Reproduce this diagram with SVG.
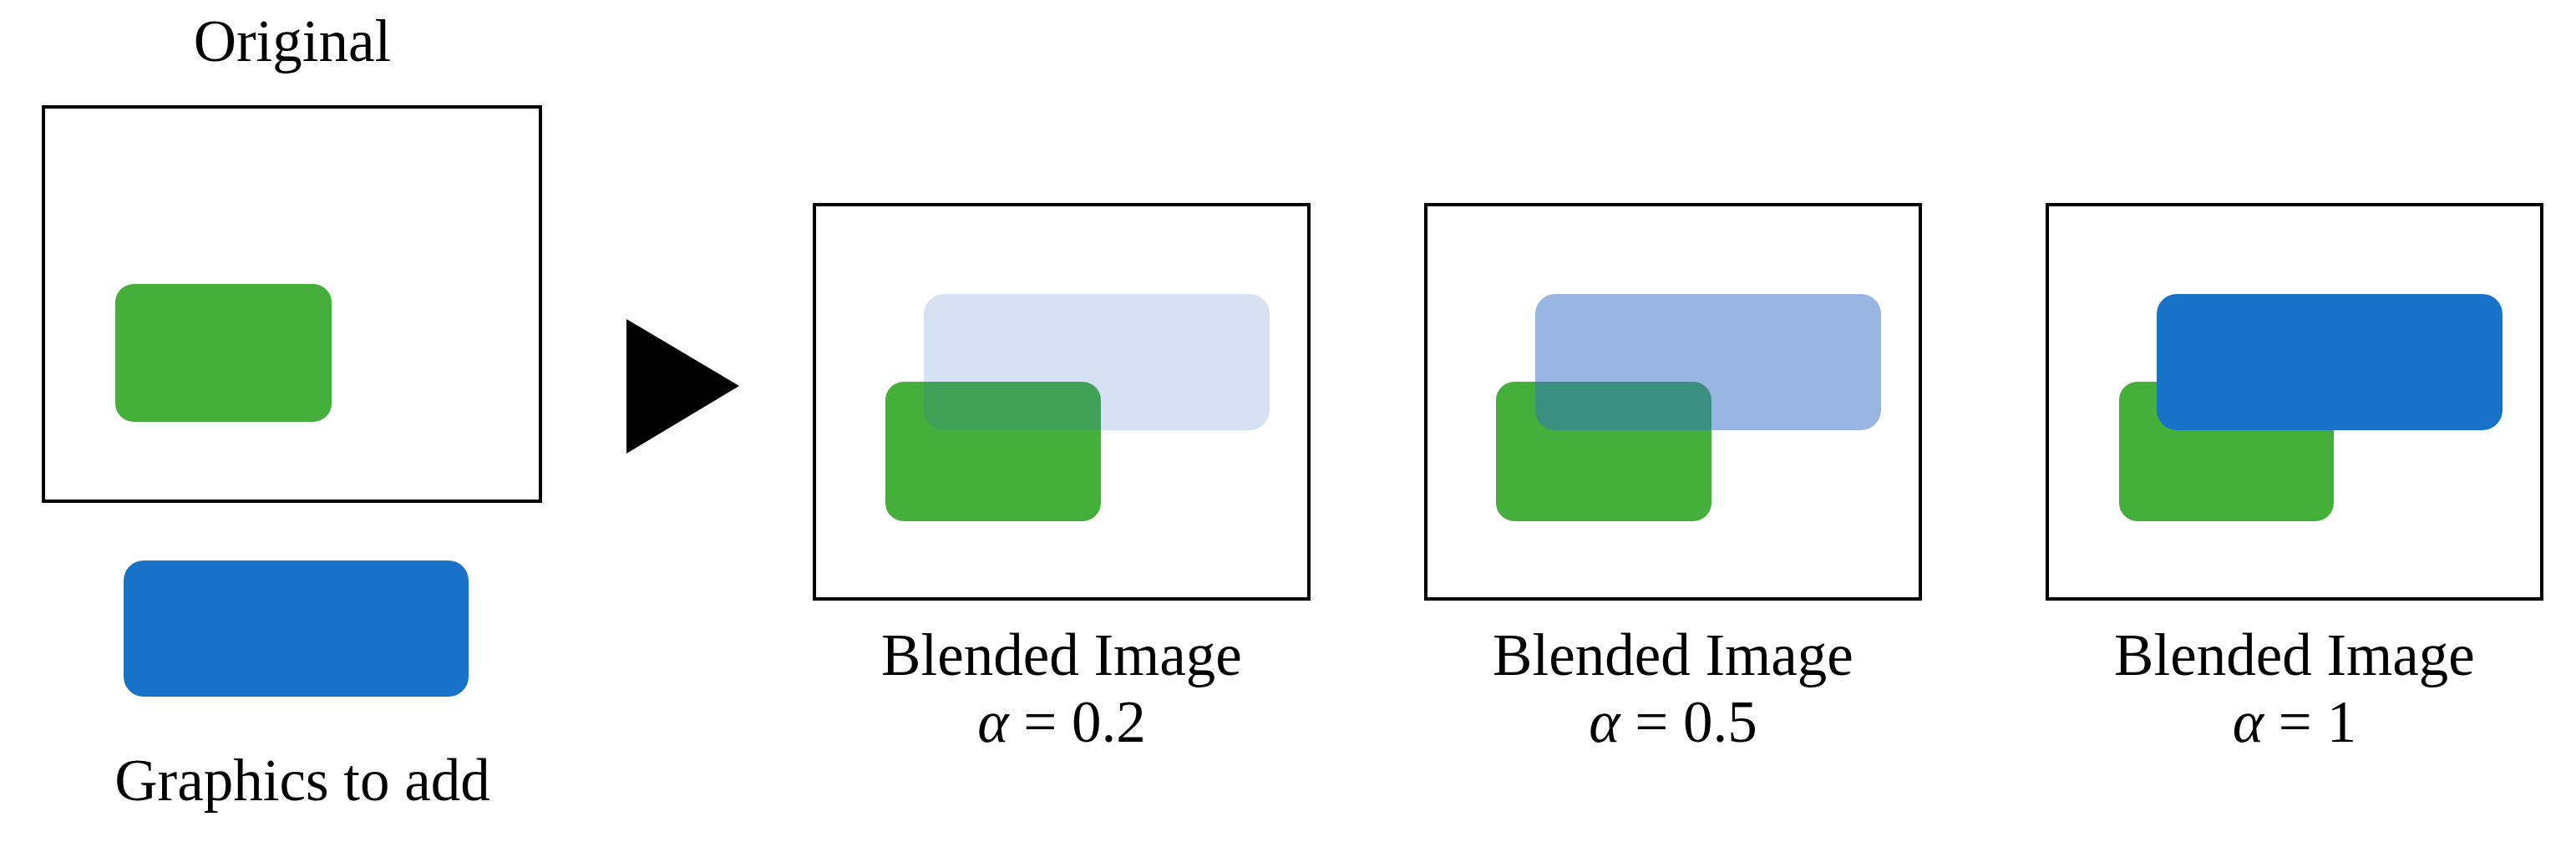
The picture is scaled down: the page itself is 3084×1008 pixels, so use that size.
<svg xmlns="http://www.w3.org/2000/svg" width="3084" height="1008" viewBox="0 0 3084 1008">
  <style>
    .frame { fill: #ffffff; stroke: #000000; stroke-width: 4; }
    .green { fill: #44AF3A; }
    .blue { fill: #1873C8; }
    .blend { fill: #336EC8; }
    .lbl { font-family: "Liberation Serif", "Times New Roman", serif; font-size: 71px; fill: #000000; text-anchor: middle; }
    .it { font-style: italic; }
  </style>
  <rect width="3084" height="1008" fill="#ffffff"/>

  <g id="original">
    <text class="lbl" x="350" y="73">Original</text>
    <rect class="frame" x="52" y="128" width="595" height="472"/>
    <rect class="green" x="138" y="340" width="259" height="165" rx="22" ry="22"/>
  </g>

  <g id="graphics-to-add">
    <rect class="blue" x="148" y="671" width="413" height="163" rx="24" ry="24"/>
    <text class="lbl" x="362" y="958">Graphics to add</text>
  </g>

  <g id="connectors">
    <polygon points="750,382 750,543 885,462" fill="#000000"/>
  </g>

  <g id="blend-02">
    <rect class="frame" x="975" y="245" width="592" height="472"/>
    <rect class="green" x="1060" y="457" width="258" height="167" rx="22" ry="22"/>
    <rect class="blend" x="1106" y="352" width="414" height="163" rx="24" ry="24" fill-opacity="0.2"/>
    <text class="lbl" x="1271" y="808">Blended Image</text>
    <text class="lbl" x="1271" y="888"><tspan class="it">α</tspan> = 0.2</text>
  </g>

  <g id="blend-05">
    <rect class="frame" x="1707" y="245" width="592" height="472"/>
    <rect class="green" x="1791" y="457" width="258" height="167" rx="22" ry="22"/>
    <rect class="blend" x="1838" y="352" width="414" height="163" rx="24" ry="24" fill-opacity="0.5"/>
    <text class="lbl" x="2003" y="808">Blended Image</text>
    <text class="lbl" x="2003" y="888"><tspan class="it">α</tspan> = 0.5</text>
  </g>

  <g id="blend-1">
    <rect class="frame" x="2451" y="245" width="592" height="472"/>
    <rect class="green" x="2537" y="457" width="257" height="167" rx="22" ry="22"/>
    <rect class="blue" x="2582" y="352" width="414" height="163" rx="24" ry="24"/>
    <text class="lbl" x="2747" y="808">Blended Image</text>
    <text class="lbl" x="2747" y="888"><tspan class="it">α</tspan> = 1</text>
  </g>
</svg>
